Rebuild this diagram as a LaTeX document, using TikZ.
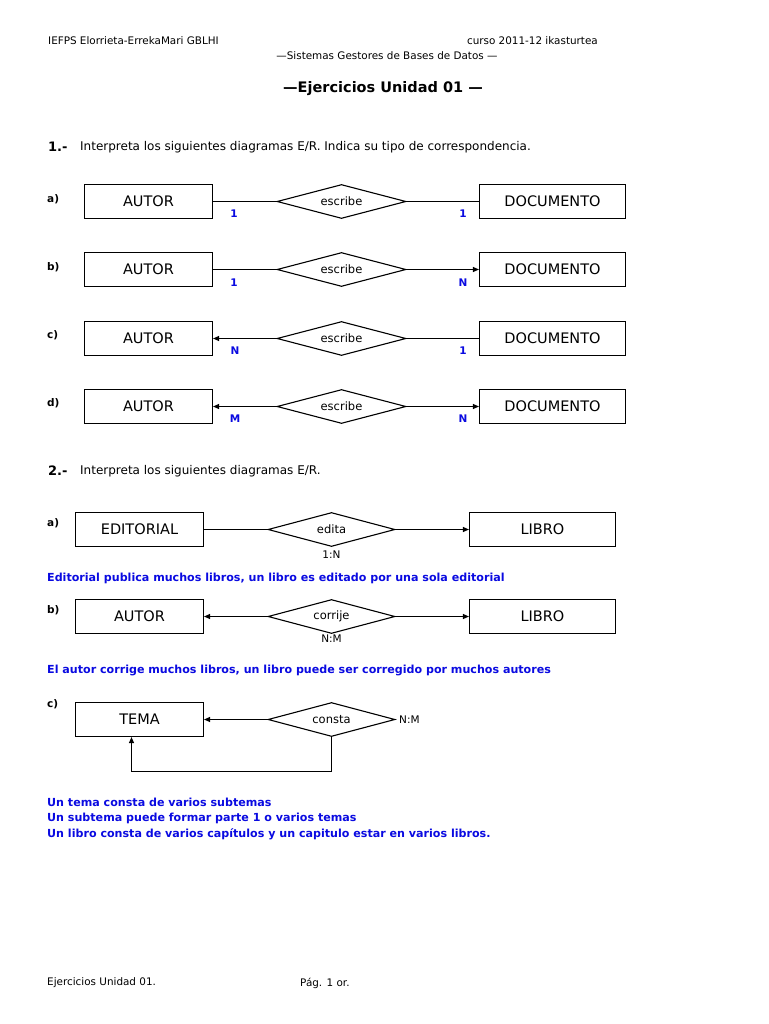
\documentclass[tikz,border=0pt]{standalone}
\usepackage{fontspec}
\setmainfont{DejaVu Sans}
\usetikzlibrary{shapes.geometric,arrows.meta}
\definecolor{cardblue}{RGB}{10,10,225}
\begin{document}
\begin{tikzpicture}[x=1pt,y=-1pt,
  ent/.style={draw,line width=1.1pt,minimum height=34pt,inner sep=0pt,font=\fontsize{14.5}{16}\selectfont},
  entA/.style={ent,minimum width=128pt},
  entD/.style={ent,minimum width=146pt},
  rel/.style={draw,diamond,line width=1.1pt,minimum width=129pt,minimum height=34pt,aspect=3.8,inner sep=0pt,font=\fontsize{11.5}{13}\selectfont},
  conn/.style={line width=1.1pt},
  arr/.style={line width=1.1pt,-{Triangle[length=6pt,width=5pt]}},
  card/.style={text=cardblue,font=\bfseries\fontsize{10.5}{12}\selectfont,inner sep=0pt},
  lbl/.style={anchor=west,font=\bfseries\fontsize{10.5}{12}\selectfont,inner sep=0pt},
  txt/.style={anchor=west,font=\fontsize{12}{14}\selectfont,inner sep=0pt},
  head/.style={font=\fontsize{10.4}{12}\selectfont,inner sep=0pt},
  bluetxt/.style={anchor=west,text=cardblue,font=\bfseries\fontsize{11.1}{13}\selectfont,inner sep=0pt},
  small/.style={font=\fontsize{10.5}{12}\selectfont,inner sep=0pt}
]
\useasboundingbox[fill=white] (0,0) rectangle (768,1024);

% header
\node[head,anchor=west] (h1) at (48,41) {IEFPS Elorrieta-ErrekaMari GBLHI};
\node[head,anchor=east] (h2) at (598,41) {curso 2011-12 ikasturtea};
\node[head] (h3) at (387,56) {—Sistemas Gestores de Bases de Datos —};
\node[font=\bfseries\fontsize{14.5}{16}\selectfont,inner sep=0pt] (title) at (383,89) {—Ejercicios Unidad 01 —};

% section 1
\node[anchor=west,font=\bfseries\fontsize{13}{15}\selectfont,inner sep=0pt] (s1) at (48,147) {1.-};
\node[txt] (s1t) at (80,147) {Interpreta los siguientes diagramas E/R. Indica su tipo de correspondencia.};

% row a
\node[lbl] (la) at (47,199) {a)};
\node[entA] (A1) at (148.5,201.5) {AUTOR};
\node[rel] (R1) at (341.5,201.5) {escribe};
\node[entD] (D1) at (552.5,201.5) {DOCUMENTO};
\draw[conn] (A1.east) -- (R1.west);
\draw[conn] (R1.east) -- (D1.west);
\node[card] (c1a) at (234,214) {1};
\node[card] (c1b) at (463,214) {1};

% row b
\node[lbl] (lb) at (47,267) {b)};
\node[entA] (A2) at (148.5,269.5) {AUTOR};
\node[rel] (R2) at (341.5,269.5) {escribe};
\node[entD] (D2) at (552.5,269.5) {DOCUMENTO};
\draw[conn] (A2.east) -- (R2.west);
\draw[arr] (R2.east) -- (D2.west);
\node[card] (c2a) at (234,283) {1};
\node[card] (c2b) at (463,283) {N};

% row c
\node[lbl] (lc) at (47,335) {c)};
\node[entA] (A3) at (148.5,338.5) {AUTOR};
\node[rel] (R3) at (341.5,338.5) {escribe};
\node[entD] (D3) at (552.5,338.5) {DOCUMENTO};
\draw[arr] (R3.west) -- (A3.east);
\draw[conn] (R3.east) -- (D3.west);
\node[card] (c3a) at (235,351) {N};
\node[card] (c3b) at (463,351) {1};

% row d
\node[lbl] (ld) at (47,403) {d)};
\node[entA] (A4) at (148.5,406.5) {AUTOR};
\node[rel] (R4) at (341.5,406.5) {escribe};
\node[entD] (D4) at (552.5,406.5) {DOCUMENTO};
\draw[arr] (R4.west) -- (A4.east);
\draw[arr] (R4.east) -- (D4.west);
\node[card] (c4a) at (235,419) {M};
\node[card] (c4b) at (463,419) {N};

% section 2
\node[anchor=west,font=\bfseries\fontsize{13}{15}\selectfont,inner sep=0pt] (s2) at (48,471) {2.-};
\node[txt] (s2t) at (80,471) {Interpreta los siguientes diagramas E/R.};

% 2a
\node[lbl] (l2a) at (47,523) {a)};
\node[ent,minimum width=128pt] (E5) at (139.5,529.5) {EDITORIAL};
\node[rel,minimum width=127pt] (R5) at (331.5,529.5) {edita};
\node[ent,minimum width=146pt] (L5) at (542.5,529.5) {LIBRO};
\draw[conn] (E5.east) -- (R5.west);
\draw[arr] (R5.east) -- (L5.west);
\node[small] (k5) at (331.5,555) {1:N};
\node[bluetxt] (t5) at (47,578) {Editorial publica muchos libros, un libro es editado por una sola editorial};

% 2b
\node[lbl] (l2b) at (47,610) {b)};
\node[ent,minimum width=128pt] (A6) at (139.5,616.5) {AUTOR};
\node[rel,minimum width=127pt] (R6) at (331.5,616.5) {corrije};
\node[ent,minimum width=146pt] (L6) at (542.5,616.5) {LIBRO};
\draw[arr] (R6.west) -- (A6.east);
\draw[arr] (R6.east) -- (L6.west);
\node[small] (k6) at (331.5,639) {N:M};
\node[bluetxt] (t6) at (47,670) {El autor corrige muchos libros, un libro puede ser corregido por muchos autores};

% 2c
\node[lbl] (l2c) at (47,704) {c)};
\node[ent,minimum width=128pt] (T7) at (139.5,719.5) {TEMA};
\node[rel,minimum width=127pt] (R7) at (331.5,719.5) {consta};
\node[small,anchor=west] (k7) at (399,719.5) {N:M};
\draw[arr] (R7.west) -- (T7.east);
\coordinate (loop) at (131.5,771.5);
\draw[arr] (R7.south) |- (loop) -- (loop |- T7.south);
\node[bluetxt] (t7a) at (47,802) {Un tema consta de varios subtemas};
\node[bluetxt] (t7b) at (47,818) {Un subtema puede formar parte 1 o varios temas};
\node[bluetxt] (t7c) at (47,834) {Un libro consta de varios capítulos y un capitulo estar en varios libros.};

% footer
\node[head,anchor=west] (f1) at (47,983) {Ejercicios Unidad 01.};
\node[head,anchor=west] (f2) at (300,983) {Pág. 1 or.};
\end{tikzpicture}
\end{document}
